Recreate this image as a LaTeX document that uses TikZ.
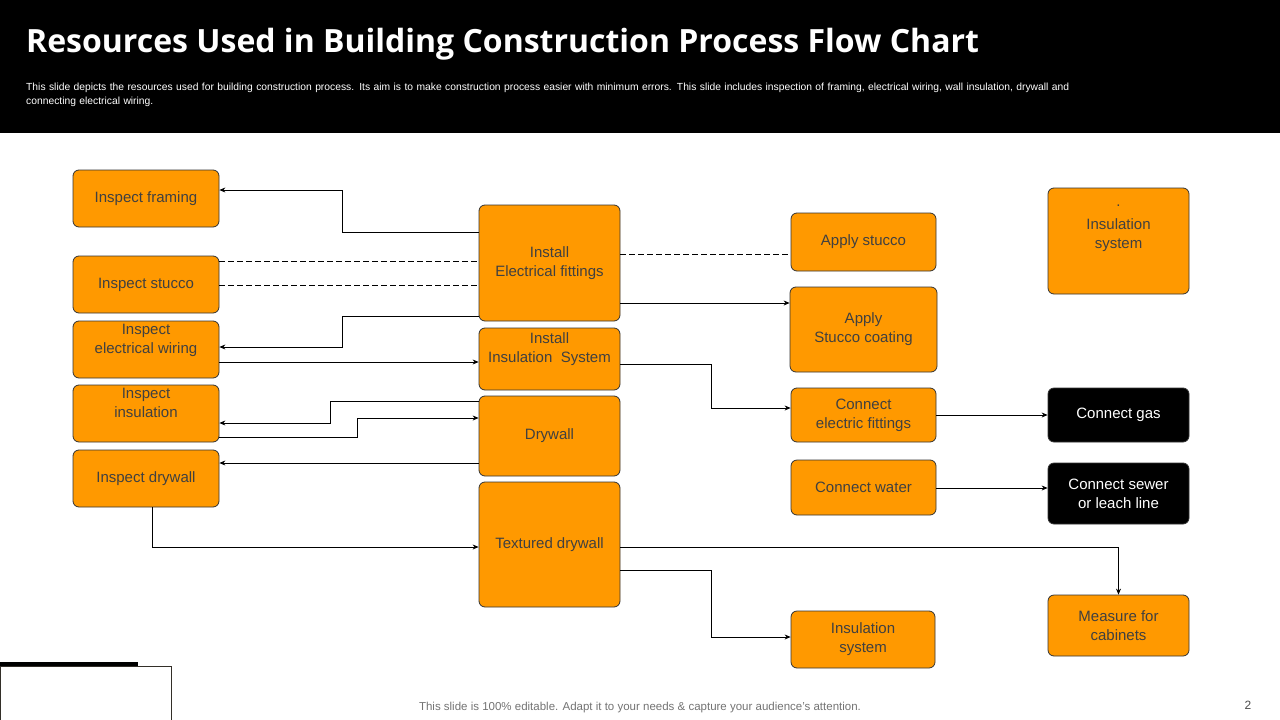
\documentclass[tikz,border=0pt]{standalone}
\usepackage{fontspec}
\setmainfont{Liberation Sans}
\newfontfamily\titlefont{Open Sans}
\usetikzlibrary{arrows.meta}
\definecolor{org}{HTML}{FF9900}
\definecolor{txt}{HTML}{404040}
\tikzset{
 box/.style={draw=black!80, fill=org, rounded corners=6pt, text=txt, font=\fontsize{15}{19}\selectfont, align=center, inner sep=0pt, line width=0.8pt},
 bbox/.style={box, fill=black, text=white},
 arr/.style={-{Stealth[length=6pt,width=5pt]}, line width=0.7pt},
 ln/.style={line width=0.7pt},
 dsh/.style={line width=0.7pt, dash pattern=on 6pt off 3pt},
}
\newcommand{\bx}[6][box]{\node[#1, minimum width=#4pt-#2pt, minimum height=#5pt-#3pt] (#6) at ({(#2+#4)/2},{(#3+#5)/2})}
\begin{document}
\begin{tikzpicture}[x=1pt,y=-1pt]
\useasboundingbox (0,0) rectangle (1280,720);
\fill[black] (0,0) rectangle (1280,133);
\node[anchor=west, text=white, font=\titlefont\bfseries\fontsize{32}{36}\selectfont, inner sep=0pt] (title) at (26,44) {Resources Used in Building Construction Process Flow Chart};
\node[anchor=north west, text=white, font=\fontsize{10.3}{14}\selectfont, text width=1200pt, align=left, inner sep=0pt] (desc) at (26,83) {This slide depicts the resources used for building construction process. Its aim is to make construction process easier with minimum errors. This slide includes inspection of framing, electrical wiring, wall insulation, drywall and\\connecting electrical wiring.};
% left
\bx{73}{170}{219}{227}{fr} {Inspect framing};
\bx{73}{256}{219}{313}{st} {Inspect stucco};
\bx{73}{321}{219}{378}{ew} {Inspect\\electrical wiring\\[2pt]};
\bx{73}{385}{219}{442}{in} {Inspect\\insulation\\[2pt]};
\bx{73}{450}{219}{507}{dw} {Inspect drywall};
% middle
\bx{479}{205}{620}{321}{ief} {Install\\Electrical fittings};
\bx{479}{328}{620}{390}{iis} {Install\\Insulation\ \ System\\[4pt]};
\bx{479}{396}{620}{476}{dr} {Drywall};
\bx{479}{482}{620}{607}{td} {Textured drywall};
% right
\bx{791}{213}{936}{271}{as} {Apply stucco};
\bx{790}{287}{937}{372}{asc} {Apply\\Stucco coating};
\bx{791}{388}{936}{442}{cef} {Connect\\electric fittings};
\bx{791}{460}{936}{515}{cw} {Connect water};
\bx{791}{611}{935}{668}{isb} {Insulation\\system};
\bx{1048}{188}{1189}{294}{ist} {.\\[4pt]Insulation\\system\\[10pt]};
\bx[bbox]{1048}{388}{1189}{442}{cg} {Connect gas};
\bx[bbox]{1048}{463}{1189}{524}{cs} {Connect sewer\\or leach line};
\bx{1048}{595}{1189}{656}{mc} {Measure for\\cabinets};
% connectors
\draw[arr] (ief.west |- 0,232) -| (342,190) -- (fr.east |- 0,190);
\draw[dsh] (st.east |- 0,261) -- (ief.west |- 0,261);
\draw[dsh] (st.east |- 0,285) -- (ief.west |- 0,285);
\draw[arr] (ief.west |- 0,316) -| (342,347) -- (ew.east |- 0,347);
\draw[arr] (ew.east |- 0,362) -- (iis.west |- 0,362);
\draw[arr] (dr.west |- 0,401) -| (330,423) -- (in.east |- 0,423);
\draw[arr] (in.east |- 0,437) -| (357,418) -- (dr.west |- 0,418);
\draw[arr] (dr.west |- 0,463) -- (dw.east |- 0,463);
\draw[arr] (dw.south -| 152,0) |- (td.west |- 0,547);
\draw[dsh] (ief.east |- 0,254) -- (as.west |- 0,254);
\draw[arr] (ief.east |- 0,303) -- (asc.west |- 0,303);
\draw[arr] (iis.east |- 0,364) -| (711,408) -- (cef.west |- 0,408);
\draw[arr] (cef.east |- 0,415) -- (cg.west |- 0,415);
\draw[arr] (cw.east |- 0,488) -- (cs.west |- 0,488);
\draw[arr] (td.east |- 0,547) -| (mc.north);
\draw[arr] (td.east |- 0,570) -| (711,637) -- (isb.west |- 0,637);
% footer
\fill[black] (0,662) rectangle (138,667);
\draw[line width=0.8pt, black!85!olive] (0,666) -- (171,666) -- (171,720);
\draw[line width=0.8pt, black!85!olive] (0.5,666) -- (0.5,720);
\node[text=black!55, font=\fontsize{11.5}{13}\selectfont] (foot) at (640,708) {This slide is 100\% editable. Adapt it to your needs \& capture your audience’s attention.};
\node[text=black!70, font=\fontsize{12}{13}\selectfont] (pg) at (1248,705) {2};
\end{tikzpicture}
\end{document}
